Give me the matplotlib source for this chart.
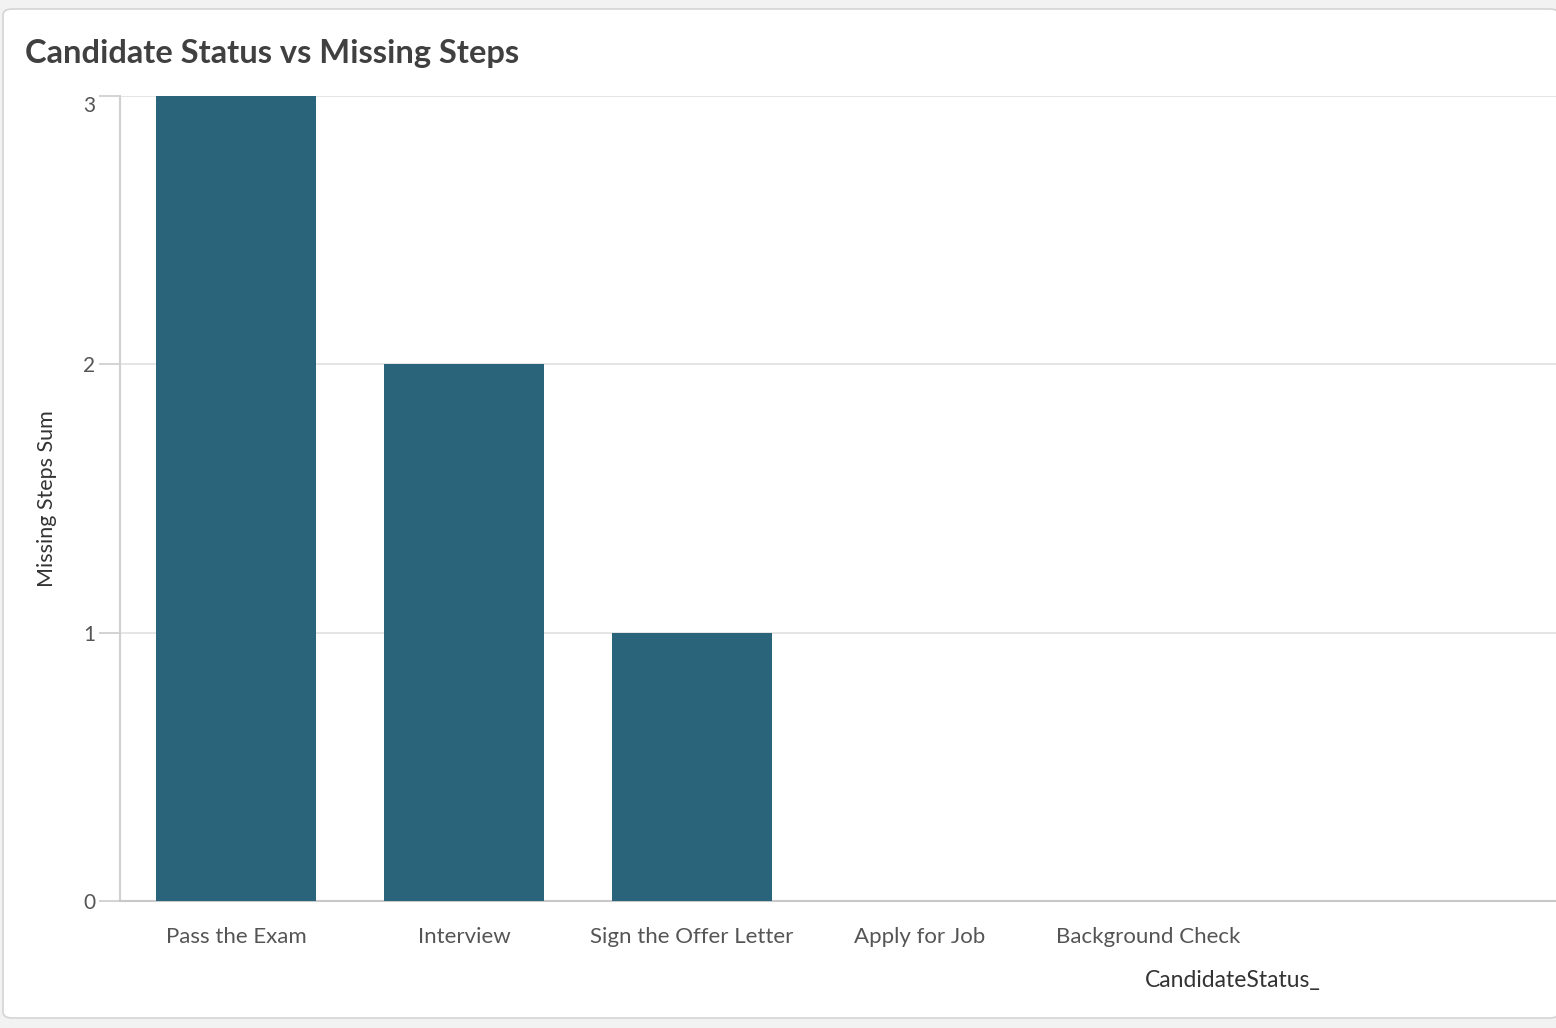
import matplotlib.pyplot as plt
from matplotlib.patches import FancyBboxPatch

categories = ['Pass the Exam', 'Interview', 'Sign the Offer Letter', 'Apply for Job', 'Background Check']
missing_steps = [3, 2, 1, 0, 0]
y_ticks = [0, 1, 2, 3]

plt.rcParams['font.family'] = ['Lato', 'DejaVu Sans']

W, H = 1556, 1028
fig = plt.figure(figsize=(W / 100, H / 100), dpi=100)
fig.patch.set_facecolor('#f2f2f2')

# white card behind everything
card = FancyBboxPatch((3 / W, 1 - 1018 / H), 1.0, (1018 - 9) / H,
                      boxstyle='round,pad=0,rounding_size=0.006',
                      transform=fig.transFigure, facecolor='white',
                      edgecolor='#d4d4d4', linewidth=1.2, zorder=-5)
fig.patches.append(card)

fig.text(25 / W, 1 - 54 / H, 'Candidate Status vs Missing Steps', fontsize=23.5,
         fontweight='bold', color='#404040', va='center', ha='left')

ax = fig.add_axes([120 / W, 1 - 901 / H, 1 - 120 / W, (901 - 96) / H])
ax.set_facecolor('none')
ax.set_zorder(2)

x = range(len(categories))
ax.bar(x, missing_steps, width=0.70, color='#2a647a', zorder=3)

ax.set_xlim(-0.509, 5.79)
ax.set_ylim(0, 3)
ax.set_yticks(y_ticks)
ax.set_yticklabels([str(v) for v in y_ticks])
ax.set_xticks(list(x))
ax.set_xticklabels(categories)
# top label sits below its tick, like the original
ax.get_yticklabels()[-1].set_va('top')

ax.grid(axis='y', color='#e0e0e0', linewidth=1.2, zorder=0)
ax.grid(axis='x', visible=False)
for s in ['top', 'right']:
    ax.spines[s].set_visible(False)
ax.spines['left'].set_color('#d0d0d0')
ax.spines['left'].set_linewidth(1.5)
ax.spines['bottom'].set_color('#c8c8c8')
ax.spines['bottom'].set_linewidth(1.5)

ax.tick_params(axis='y', length=15, width=1.3, color='#d0d0d0', labelsize=15,
               labelcolor='#555555', pad=3)
ax.tick_params(axis='x', length=0, labelsize=16, labelcolor='#555555', pad=19)

ax.set_ylabel('Missing Steps Sum', fontsize=15.5, color='#333333')
ax.yaxis.set_label_coords(-63 / (W - 120), 0.5)
fig.text(1233 / W, 1 - 980 / H, 'CandidateStatus_', fontsize=16.5, color='#333333',
         ha='center', va='center')

fig.savefig('out.png', dpi=100, facecolor=fig.get_facecolor())
